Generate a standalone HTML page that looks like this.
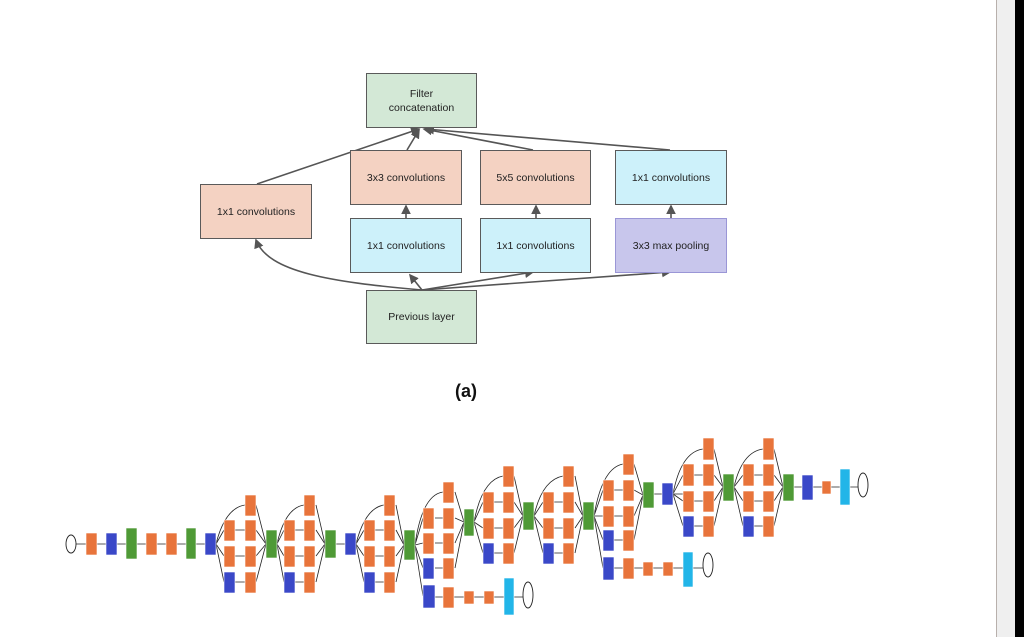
<!DOCTYPE html>
<html><head><meta charset="utf-8"><style>
html,body{margin:0;padding:0;background:#fff;}
body{width:1024px;height:637px;overflow:hidden;position:relative;font-family:"Liberation Sans",sans-serif;}
.bx{position:absolute;box-sizing:border-box;border:1.5px solid #5a5a5a;display:flex;align-items:center;justify-content:center;text-align:center;font-size:10.5px;color:#222;line-height:14px;}
.gr{background:#d3e8d6}.or{background:#f4d2c2}.bl{background:#cdf1fa}.pu{background:#c8c6ec;border-color:#9a96d6}
</style></head><body>
<div style="position:absolute;left:996px;top:0;width:1px;height:637px;background:#b8b0ac"></div>
<div style="position:absolute;left:997px;top:0;width:18px;height:637px;background:#efefef"></div>
<div style="position:absolute;left:1015px;top:0;width:9px;height:637px;background:#000"></div>

<svg style="position:absolute;left:0;top:0" width="1000" height="637">
<defs><marker id="ah" markerWidth="6" markerHeight="6" refX="5" refY="3" orient="auto"><path d="M0,0 L6,3 L0,6z" fill="#555"/></marker></defs>
<g stroke="#555" stroke-width="1.6" fill="none" marker-end="url(#ah)">
<line x1="257" y1="184" x2="419" y2="129"/>
<line x1="407" y1="150" x2="419" y2="130"/>
<line x1="533" y1="150" x2="424" y2="129"/>
<line x1="670" y1="150" x2="426" y2="129"/>
<line x1="406" y1="218" x2="406" y2="206"/>
<line x1="536" y1="218" x2="536" y2="206"/>
<line x1="671" y1="218" x2="671" y2="206"/>
<path d="M422,290 C330,282 268,272 256,240"/>
<line x1="422" y1="290" x2="410" y2="275"/>
<line x1="422" y1="290" x2="533" y2="272"/>
<line x1="422" y1="290" x2="670" y2="272"/>
</g>
</svg>
<div class="bx gr" style="left:366px;top:73px;width:111px;height:55px">Filter<br>concatenation</div>
<div class="bx or" style="left:350px;top:150px;width:112px;height:55px">3x3 convolutions</div>
<div class="bx or" style="left:480px;top:150px;width:111px;height:55px">5x5 convolutions</div>
<div class="bx bl" style="left:615px;top:150px;width:112px;height:55px">1x1 convolutions</div>
<div class="bx or" style="left:200px;top:184px;width:112px;height:55px">1x1 convolutions</div>
<div class="bx bl" style="left:350px;top:218px;width:112px;height:55px">1x1 convolutions</div>
<div class="bx bl" style="left:480px;top:218px;width:111px;height:55px">1x1 convolutions</div>
<div class="bx pu" style="left:615px;top:218px;width:112px;height:55px">3x3 max pooling</div>
<div class="bx gr" style="left:366px;top:290px;width:111px;height:54px">Previous layer</div>
<div style="position:absolute;left:455px;top:381px;font-weight:bold;font-size:18px;color:#111">(a)</div>

<svg style="position:absolute;left:0;top:0" width="1000" height="637">
<style>.o{fill:#e8743b}.b{fill:#3a48c8}.g{fill:#4f9a36}.c{fill:#22b5e8}</style>
<g stroke="#222" stroke-width="0.8" fill="none">
<line x1="76" y1="544" x2="216" y2="544"/>
<line x1="336" y1="544" x2="356" y2="544"/>
<path d="M216,544 Q225,508 245,505 M216,544 L224,530 M216,544 L224,556 M216,544 L224,582 M235,530H245 M235,556H245 M235,582H245 M256,505L266,544 M256,530L266,544 M256,556L266,544 M256,582L266,544"/>
<path d="M277,544 Q285,508 304,505 M277,544 L284,530 M277,544 L284,556 M277,544 L284,582 M295,530H304 M295,556H304 M295,582H304 M316,505L325,544 M316,530L325,544 M316,556L325,544 M316,582L325,544"/>
<path d="M356,544 Q365,508 384,505 M356,544 L364,530 M356,544 L364,556 M356,544 L364,582 M375,530H384 M375,556H384 M375,582H384 M396,505L404,545 M396,530L404,545 M396,556L404,545 M396,582L404,545"/>
<path d="M415,545 Q422,495 443,492 M415,545 L423,518 M415,545 L423,543 M415,545 L423,568 M435,518H443 M435,543H443 M435,568H443 M455,492L464,522 M455,518L464,522 M455,543L464,522 M455,568L464,522"/>
<path d="M415,545 L423,596 M435,597H533"/>
<path d="M474,522 Q482,480 503,476 M474,522 L483,502 M474,522 L483,528 M474,522 L483,553 M494,502H503 M494,528H503 M494,553H503 M514,476L523,516 M514,502L523,516 M514,528L523,516 M514,553L523,516"/>
<path d="M534,516 Q542,480 563,476 M534,516 L543,502 M534,516 L543,528 M534,516 L543,553 M554,502H563 M554,528H563 M554,553H563 M575,476L583,516 M575,502L583,516 M575,528L583,516 M575,553L583,516"/>
<path d="M594,516 Q602,468 623,464 M594,516 L603,490 M594,516 L603,516 M594,516 L603,540 M614,490H623 M614,516H623 M614,540H623 M634,464L643,495 M634,490L643,495 M634,516L643,495 M634,540L643,495"/>
<path d="M594,516 L603,568 M614,568H708"/>
<path d="M654,494H683"/>
<path d="M673,494 Q681,452 703,449 M673,494 L683,475 M673,494 L683,501 M673,494 L683,526 M694,475H703 M694,501H703 M694,526H703 M714,449L723,487 M714,475L723,487 M714,501L723,487 M714,526L723,487"/>
<path d="M734,487 Q742,452 763,449 M734,487 L743,475 M734,487 L743,501 M734,487 L743,526 M754,475H763 M754,501H763 M754,526H763 M774,449L783,487 M774,475L783,487 M774,501L783,487 M774,526L783,487"/>
<path d="M794,487H858"/>
</g>
<g stroke="#fff" stroke-width="0.6">
<rect class="o" x="86" y="533" width="11" height="22"/><rect class="b" x="106" y="533" width="11" height="22"/>
<rect class="g" x="126" y="528" width="11" height="31"/><rect class="o" x="146" y="533" width="11" height="22"/>
<rect class="o" x="166" y="533" width="11" height="22"/><rect class="g" x="186" y="528" width="10" height="31"/>
<rect class="b" x="205" y="533" width="11" height="22"/>
<rect class="o" x="245" y="495" width="11" height="21"/><rect class="o" x="224" y="520" width="11" height="21"/><rect class="o" x="245" y="520" width="11" height="21"/>
<rect class="o" x="224" y="546" width="11" height="21"/><rect class="o" x="245" y="546" width="11" height="21"/><rect class="b" x="224" y="572" width="11" height="21"/><rect class="o" x="245" y="572" width="11" height="21"/>
<rect class="g" x="266" y="530" width="11" height="28"/>
<rect class="o" x="304" y="495" width="11" height="21"/><rect class="o" x="284" y="520" width="11" height="21"/><rect class="o" x="304" y="520" width="11" height="21"/>
<rect class="o" x="284" y="546" width="11" height="21"/><rect class="o" x="304" y="546" width="11" height="21"/><rect class="b" x="284" y="572" width="11" height="21"/><rect class="o" x="304" y="572" width="11" height="21"/>
<rect class="g" x="325" y="530" width="11" height="28"/>
<rect class="b" x="345" y="533" width="11" height="22"/>
<rect class="o" x="384" y="495" width="11" height="21"/><rect class="o" x="364" y="520" width="11" height="21"/><rect class="o" x="384" y="520" width="11" height="21"/>
<rect class="o" x="364" y="546" width="11" height="21"/><rect class="o" x="384" y="546" width="11" height="21"/><rect class="b" x="364" y="572" width="11" height="21"/><rect class="o" x="384" y="572" width="11" height="21"/>
<rect class="g" x="404" y="530" width="11" height="30"/>
<rect class="o" x="443" y="482" width="11" height="21"/><rect class="o" x="423" y="508" width="11" height="21"/><rect class="o" x="443" y="508" width="11" height="21"/>
<rect class="o" x="423" y="533" width="11" height="21"/><rect class="o" x="443" y="533" width="11" height="21"/><rect class="b" x="423" y="558" width="11" height="21"/><rect class="o" x="443" y="558" width="11" height="21"/>
<rect class="g" x="464" y="509" width="10" height="27"/>
<rect class="b" x="423" y="585" width="12" height="23"/><rect class="o" x="443" y="587" width="11" height="21"/>
<rect class="o" x="464" y="591" width="10" height="13"/><rect class="o" x="484" y="591" width="10" height="13"/>
<rect class="c" x="504" y="578" width="10" height="37"/>
<rect class="o" x="503" y="466" width="11" height="21"/><rect class="o" x="483" y="492" width="11" height="21"/><rect class="o" x="503" y="492" width="11" height="21"/>
<rect class="o" x="483" y="518" width="11" height="21"/><rect class="o" x="503" y="518" width="11" height="21"/><rect class="b" x="483" y="543" width="11" height="21"/><rect class="o" x="503" y="543" width="11" height="21"/>
<rect class="g" x="523" y="502" width="11" height="28"/>
<rect class="o" x="563" y="466" width="11" height="21"/><rect class="o" x="543" y="492" width="11" height="21"/><rect class="o" x="563" y="492" width="11" height="21"/>
<rect class="o" x="543" y="518" width="11" height="21"/><rect class="o" x="563" y="518" width="11" height="21"/><rect class="b" x="543" y="543" width="11" height="21"/><rect class="o" x="563" y="543" width="11" height="21"/>
<rect class="g" x="583" y="502" width="11" height="28"/>
<rect class="o" x="623" y="454" width="11" height="21"/><rect class="o" x="603" y="480" width="11" height="21"/><rect class="o" x="623" y="480" width="11" height="21"/>
<rect class="o" x="603" y="506" width="11" height="21"/><rect class="o" x="623" y="506" width="11" height="21"/><rect class="b" x="603" y="530" width="11" height="21"/><rect class="o" x="623" y="530" width="11" height="21"/>
<rect class="g" x="643" y="482" width="11" height="26"/>
<rect class="b" x="603" y="557" width="11" height="23"/><rect class="o" x="623" y="558" width="11" height="21"/>
<rect class="o" x="643" y="562" width="10" height="14"/><rect class="o" x="663" y="562" width="10" height="14"/>
<rect class="c" x="683" y="552" width="10" height="35"/>
<rect class="b" x="662" y="483" width="11" height="22"/>
<rect class="o" x="703" y="438" width="11" height="22"/><rect class="o" x="683" y="464" width="11" height="22"/><rect class="o" x="703" y="464" width="11" height="22"/>
<rect class="o" x="683" y="491" width="11" height="21"/><rect class="o" x="703" y="491" width="11" height="21"/><rect class="b" x="683" y="516" width="11" height="21"/><rect class="o" x="703" y="516" width="11" height="21"/>
<rect class="g" x="723" y="474" width="11" height="27"/>
<rect class="o" x="763" y="438" width="11" height="22"/><rect class="o" x="743" y="464" width="11" height="22"/><rect class="o" x="763" y="464" width="11" height="22"/>
<rect class="o" x="743" y="491" width="11" height="21"/><rect class="o" x="763" y="491" width="11" height="21"/><rect class="b" x="743" y="516" width="11" height="21"/><rect class="o" x="763" y="516" width="11" height="21"/>
<rect class="g" x="783" y="474" width="11" height="27"/>
<rect class="b" x="802" y="475" width="11" height="25"/><rect class="o" x="822" y="481" width="9" height="13"/>
<rect class="c" x="840" y="469" width="10" height="36"/>
</g>
<g fill="#fff" stroke="#222" stroke-width="0.9">
<ellipse cx="71" cy="544" rx="5" ry="9"/>
<ellipse cx="528" cy="595" rx="5" ry="13"/>
<ellipse cx="708" cy="565" rx="5" ry="12"/>
<ellipse cx="863" cy="485" rx="5" ry="12"/>
</g>
</svg>
</body></html>
